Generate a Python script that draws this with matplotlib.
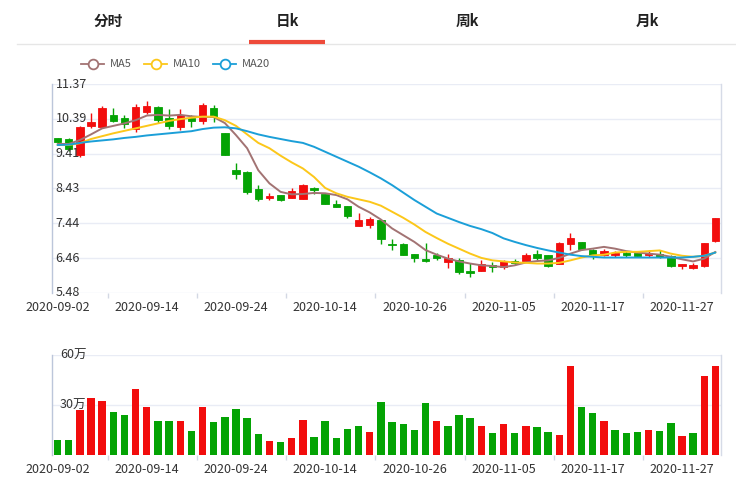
import matplotlib
matplotlib.use("Agg")
import matplotlib.pyplot as plt
import numpy as np
from matplotlib.lines import Line2D
from matplotlib.transforms import offset_copy

plt.rcParams['font.family'] = ['Noto Sans CJK SC', 'DejaVu Sans']

# ---- data ----
dates = ["2020-09-02", "2020-09-03", "2020-09-04", "2020-09-07", "2020-09-08",
         "2020-09-09", "2020-09-10", "2020-09-11", "2020-09-14", "2020-09-15",
         "2020-09-16", "2020-09-17", "2020-09-18", "2020-09-21", "2020-09-22",
         "2020-09-23", "2020-09-24", "2020-09-25", "2020-09-28", "2020-09-29",
         "2020-09-30", "2020-10-09", "2020-10-12", "2020-10-13", "2020-10-14",
         "2020-10-15", "2020-10-16", "2020-10-19", "2020-10-20", "2020-10-21",
         "2020-10-22", "2020-10-23", "2020-10-26", "2020-10-27", "2020-10-28",
         "2020-10-29", "2020-10-30", "2020-11-02", "2020-11-03", "2020-11-04",
         "2020-11-05", "2020-11-06", "2020-11-09", "2020-11-10", "2020-11-11",
         "2020-11-12", "2020-11-13", "2020-11-16", "2020-11-17", "2020-11-18",
         "2020-11-19", "2020-11-20", "2020-11-23", "2020-11-24", "2020-11-25",
         "2020-11-26", "2020-11-27", "2020-11-30", "2020-12-01", "2020-12-02"]

opens = [9.85, 9.81, 9.37, 10.19, 10.17, 10.50, 10.42, 10.09, 10.59, 10.73,
         10.40, 10.16, 10.42, 10.33, 10.68, 9.99, 8.96, 8.89, 8.41, 8.17,
         8.23, 8.16, 8.14, 8.44, 8.26, 8.00, 7.94, 7.37, 7.41, 7.53,
         6.87, 6.86, 6.59, 6.43, 6.54, 6.35, 6.42, 6.11, 6.10, 6.26,
         6.20, 6.39, 6.38, 6.57, 6.54, 6.31, 6.87, 6.92, 6.69, 6.56,
         6.54, 6.62, 6.61, 6.54, 6.58, 6.51, 6.24, 6.19, 6.23, 6.94]
closes = [9.73, 9.53, 10.16, 10.31, 10.70, 10.33, 10.23, 10.73, 10.76, 10.35,
          10.19, 10.50, 10.33, 10.78, 10.44, 9.37, 8.82, 8.33, 8.12, 8.22,
          8.09, 8.35, 8.52, 8.37, 7.99, 7.91, 7.66, 7.53, 7.56, 7.00,
          6.83, 6.55, 6.47, 6.38, 6.48, 6.47, 6.06, 6.04, 6.31, 6.20,
          6.39, 6.33, 6.54, 6.46, 6.23, 6.90, 7.03, 6.73, 6.56, 6.67,
          6.62, 6.54, 6.53, 6.62, 6.50, 6.23, 6.30, 6.26, 6.88, 7.58]
highs = [9.86, 9.84, 10.18, 10.54, 10.75, 10.68, 10.51, 10.80, 10.89, 10.76,
         10.66, 10.66, 10.51, 10.84, 10.78, 9.99, 9.14, 8.92, 8.52, 8.31,
         8.24, 8.43, 8.55, 8.47, 8.27, 8.09, 7.94, 7.74, 7.63, 7.53,
         6.99, 6.90, 6.59, 6.89, 6.62, 6.59, 6.47, 6.32, 6.40, 6.35,
         6.40, 6.43, 6.60, 6.68, 6.56, 6.93, 7.18, 6.93, 6.73, 6.73,
         6.66, 6.66, 6.63, 6.68, 6.69, 6.54, 6.30, 6.33, 6.89, 7.60]
lows = [9.72, 9.48, 9.32, 10.12, 10.12, 10.29, 10.12, 10.03, 10.52, 10.26,
        10.10, 10.07, 10.16, 10.24, 10.31, 9.37, 8.69, 8.27, 8.07, 8.10,
        8.07, 8.15, 8.12, 8.28, 7.98, 7.90, 7.60, 7.37, 7.32, 6.85,
        6.70, 6.54, 6.36, 6.34, 6.40, 6.19, 6.02, 5.92, 6.10, 6.07,
        6.17, 6.28, 6.36, 6.40, 6.22, 6.29, 6.69, 6.68, 6.45, 6.52,
        6.50, 6.49, 6.50, 6.49, 6.47, 6.20, 6.15, 6.15, 6.22, 6.93]

# volume in 万 (10k shares)
volumes = [8.8, 9.0, 27.0, 34.2, 32.4, 25.6, 24.0, 39.4, 28.8, 20.6,
           20.2, 20.2, 14.4, 28.6, 19.6, 23.0, 27.6, 22.2, 12.6, 8.4,
           7.8, 10.0, 21.0, 10.6, 20.4, 10.2, 15.6, 17.4, 13.8, 31.8,
           19.6, 18.6, 14.8, 31.2, 20.6, 17.4, 24.0, 22.2, 17.4, 13.2,
           18.6, 13.2, 17.4, 16.6, 13.8, 12.0, 53.4, 29.0, 25.0, 20.4,
           15.0, 13.2, 13.6, 15.0, 14.4, 19.2, 11.4, 13.0, 47.4, 53.4]

ma5 = [9.68, 9.68, 9.79, 9.95, 10.12, 10.19, 10.26, 10.35, 10.48, 10.50,
       10.48, 10.50, 10.46, 10.44, 10.44, 10.27, 9.93, 9.56, 8.94, 8.57,
       8.33, 8.26, 8.27, 8.30, 8.29, 8.24, 8.12, 7.91, 7.75, 7.55,
       7.30, 7.11, 6.92, 6.69, 6.56, 6.45, 6.37, 6.31, 6.26, 6.24,
       6.21, 6.26, 6.34, 6.38, 6.40, 6.47, 6.59, 6.69, 6.73, 6.78,
       6.73, 6.66, 6.62, 6.59, 6.56, 6.50, 6.43, 6.37, 6.45, 6.64]
ma10 = [9.65, 9.65, 9.70, 9.82, 9.90, 9.98, 10.05, 10.12, 10.19, 10.26,
        10.33, 10.38, 10.42, 10.45, 10.45, 10.35, 10.19, 9.95, 9.71, 9.56,
        9.35, 9.16, 8.99, 8.75, 8.44, 8.29, 8.19, 8.12, 8.05, 7.94,
        7.77, 7.60, 7.41, 7.20, 7.03, 6.87, 6.73, 6.59, 6.47, 6.40,
        6.37, 6.34, 6.33, 6.31, 6.31, 6.33, 6.40, 6.48, 6.54, 6.56,
        6.62, 6.64, 6.64, 6.66, 6.68, 6.59, 6.53, 6.50, 6.53, 6.62]
ma20 = [9.65, 9.66, 9.71, 9.75, 9.78, 9.81, 9.85, 9.88, 9.92, 9.95,
        9.98, 10.01, 10.04, 10.10, 10.14, 10.15, 10.12, 10.04, 9.95, 9.88,
        9.82, 9.76, 9.71, 9.60, 9.46, 9.32, 9.18, 9.04, 8.88, 8.71,
        8.52, 8.31, 8.10, 7.91, 7.72, 7.60, 7.48, 7.37, 7.28, 7.17,
        7.02, 6.92, 6.83, 6.75, 6.68, 6.62, 6.56, 6.52, 6.50, 6.48,
        6.48, 6.48, 6.48, 6.48, 6.48, 6.48, 6.48, 6.50, 6.53, 6.62]

price_ticks = [5.48, 6.46, 7.44, 8.43, 9.41, 10.39, 11.37]
vol_ticks = [30, 60]
vol_tick_labels = ["30万", "60万"]
tabs = ["分时", "日k", "周k", "月k"]
ma_names = ["MA5", "MA10", "MA20"]

# ---- styles ----
RED = "#f20d0d"
GREEN = "#04a304"
MA_COLORS = ["#a27373", "#fcc71a", "#1b9fd8"]
GRID = "#e9ecf5"
AXIS = "#bcc6da"
TEXT = "#333333"

n = len(dates)
x = np.arange(n)
o = np.array(opens); c = np.array(closes)
up = c >= o
candle_colors = [RED if u else GREEN for u in up]
# volume bars follow the change vs previous close
vol_colors = [candle_colors[0]] + [RED if c[i] >= c[i - 1] else GREEN for i in range(1, n)]

W, H = 736, 484
fig = plt.figure(figsize=(W / 100, H / 100), dpi=100)
fig.patch.set_facecolor("white")

L, R = 52, 721
ax = fig.add_axes([L / W, 1 - 293 / H, (R - L) / W, (293 - 84) / H])
axv = fig.add_axes([L / W, 1 - 455 / H, (R - L) / W, (455 - 355) / H])


def style_axes(a):
    a.set_xlim(-0.5, n - 0.5)
    for s in ["top", "bottom"]:
        a.spines[s].set_visible(False)
    a.spines["left"].set_color(AXIS)
    a.spines["right"].set_color("#d6dbe7")
    a.spines["left"].set_linewidth(1)
    a.spines["right"].set_linewidth(1)
    a.grid(axis="y", color=GRID, linewidth=1)
    a.set_axisbelow(True)
    a.tick_params(axis="y", left=False, labelleft=False)
    label_idx = list(range(0, n, 8))
    a.set_xticks(label_idx)
    a.set_xticklabels([dates[i] for i in label_idx], fontsize=9, color=TEXT)
    a.set_xticks([i + 4.5 for i in range(0, n - 5, 8)], minor=True)
    a.tick_params(axis="x", which="major", length=0, pad=6)
    a.tick_params(axis="x", which="minor", length=3.5, color="#d3d8e4", width=1)


# ---- candlestick ----
style_axes(ax)
ax.set_ylim(price_ticks[0], price_ticks[-1])
ax.set_yticks(price_ticks)
ytr = offset_copy(ax.get_yaxis_transform(), fig=fig, x=3.5, y=0, units="dots")
for t in price_ticks:
    ax.text(0, t, f"{t:.2f}", transform=ytr, ha="left", va="center",
            fontsize=9, color=TEXT, zorder=5)

ax.vlines(x, lows, highs, colors=candle_colors, linewidth=1, zorder=3)
ax.bar(x, np.abs(c - o), bottom=np.minimum(o, c), width=0.66,
       color=candle_colors, edgecolor=candle_colors, linewidth=0.6, zorder=3)
for vals, col in zip([ma5, ma10, ma20], MA_COLORS):
    ax.plot(x, vals, color=col, linewidth=1.4, zorder=4, solid_capstyle="round")

# ---- volume ----
style_axes(axv)
axv.set_ylim(0, 60)
axv.set_yticks(vol_ticks)
vtr = offset_copy(axv.get_yaxis_transform(), fig=fig, x=8, y=0, units="dots")
for t, lab in zip(vol_ticks, vol_tick_labels):
    axv.text(0, t, lab, transform=vtr, ha="left", va="center",
             fontsize=9, color=TEXT, zorder=5)
axv.bar(x, volumes, width=0.66, color=vol_colors, zorder=3)

# ---- header: tabs + legend ----
top = fig.add_axes([0, 0, 1, 1], zorder=-1)
top.set_xlim(0, W)
top.set_ylim(H, 0)
top.axis("off")
tab_x = [108, 287, 467, 647]
for tx, name in zip(tab_x, tabs):
    top.text(tx, 21, name, ha="center", va="center", fontsize=10.5,
             fontweight="bold", color="#222222")
top.plot([17, W], [44, 44], color="#e6e6e6", linewidth=1)
top.plot([249, 325], [41.5, 41.5], color="#ee4a3a", linewidth=3, solid_capstyle="butt")

leg_x = [81, 144, 213]
for lx, name, col in zip(leg_x, ma_names, MA_COLORS):
    top.plot([lx, lx + 23], [64, 64], color=col, linewidth=1.3)
    top.plot([lx + 11.5], [64], marker="o", markersize=7, markerfacecolor="white",
             markeredgecolor=col, markeredgewidth=1.3)
    top.text(lx + 29, 64, name, ha="left", va="center", fontsize=8, color="#555555")

fig.savefig("out.png", dpi=100, facecolor="white")
